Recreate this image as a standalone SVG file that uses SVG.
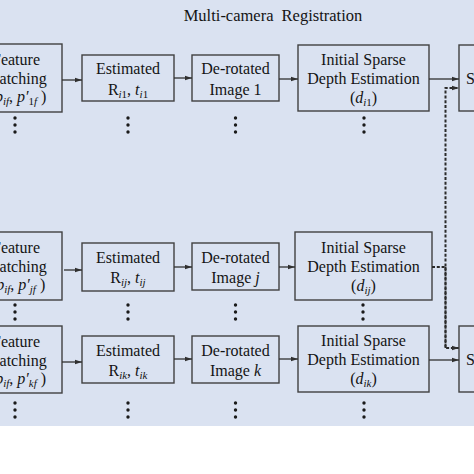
<svg xmlns="http://www.w3.org/2000/svg" width="474" height="474" viewBox="0 0 474 474">
<style>
.t{font-family:"Liberation Serif","Times New Roman",serif;font-size:16px;fill:#141414;text-anchor:middle}
.it{font-style:italic}
.sub{font-size:11px}
.box{fill:none;stroke:#404040;stroke-width:1.4}
.ln{fill:none;stroke:#303030;stroke-width:1.3}
.dash{fill:none;stroke:#2a2a2a;stroke-width:2;stroke-dasharray:3 1.8}
.dot{fill:#1a1a1a}
</style>
<defs>
<marker id="ah" markerWidth="7" markerHeight="6" refX="7" refY="3" orient="auto" markerUnits="userSpaceOnUse">
<path d="M0,0.8 L7,3 L0,5.2 z" fill="#303030"/>
</marker>
</defs>
<rect x="0" y="0" width="474" height="426" fill="#dae2f1"/>
<text class="t" x="273" y="21" style="font-size:16.5px;word-spacing:4px">Multi-camera Registration</text>

<g id="feature1"><rect class="box" x="-30" y="44" width="92" height="68"/>
<text class="t" x="16" y="65">Feature</text><text class="t" x="16" y="84">Matching</text>
<text class="t" x="18" y="102">(<tspan class="it">p</tspan><tspan class="sub it" dy="3">if</tspan><tspan dy="-3">, </tspan><tspan class="it">p′</tspan><tspan class="sub" dy="3">1<tspan class="it">f</tspan></tspan><tspan dy="-3"> )</tspan></text></g>
<g id="est1"><rect class="box" x="82" y="55" width="92" height="46"/>
<text class="t" x="128" y="74">Estimated</text>
<text class="t" x="128" y="95">R<tspan class="sub" dy="3"><tspan class="it">i</tspan>1</tspan><tspan dy="-3">, </tspan><tspan class="it">t</tspan><tspan class="sub" dy="3"><tspan class="it">i</tspan>1</tspan></text></g>
<g id="derot1"><rect class="box" x="192" y="55" width="87" height="46"/>
<text class="t" x="235.5" y="74">De-rotated</text><text class="t" x="235.5" y="95">Image 1</text></g>
<g id="init1"><rect class="box" x="298" y="45" width="131" height="66"/>
<text class="t" x="363.5" y="65">Initial Sparse</text><text class="t" x="363.5" y="84">Depth Estimation</text>
<text class="t" x="363.5" y="103">(<tspan class="it">d</tspan><tspan class="sub" dy="3"><tspan class="it">i</tspan>1</tspan><tspan dy="-3">)</tspan></text></g>
<g id="s1"><rect class="box" x="459" y="45" width="40" height="66"/>
<text class="t" x="466" y="84" style="text-anchor:start">S</text></g>

<g id="featurej"><rect class="box" x="-30" y="232" width="92" height="68"/>
<text class="t" x="16" y="253">Feature</text><text class="t" x="16" y="272">Matching</text>
<text class="t" x="18" y="290">(<tspan class="it">p</tspan><tspan class="sub it" dy="3">if</tspan><tspan dy="-3">, </tspan><tspan class="it">p′</tspan><tspan class="sub it" dy="3">jf</tspan><tspan dy="-3"> )</tspan></text></g>
<g id="estj"><rect class="box" x="82" y="243" width="92" height="48"/>
<text class="t" x="128" y="263">Estimated</text>
<text class="t" x="128" y="283">R<tspan class="sub it" dy="3">ij</tspan><tspan dy="-3">, </tspan><tspan class="it">t</tspan><tspan class="sub it" dy="3">ij</tspan></text></g>
<g id="derotj"><rect class="box" x="192" y="243" width="87" height="47"/>
<text class="t" x="235.5" y="263">De-rotated</text><text class="t" x="235.5" y="283">Image <tspan class="it">j</tspan></text></g>
<g id="initj"><rect class="box" x="295" y="232" width="137" height="68"/>
<text class="t" x="363.5" y="253">Initial Sparse</text><text class="t" x="363.5" y="272">Depth Estimation</text>
<text class="t" x="363.5" y="291">(<tspan class="it">d</tspan><tspan class="sub it" dy="3">ij</tspan><tspan dy="-3">)</tspan></text></g>

<g id="featurek"><rect class="box" x="-30" y="326" width="92" height="67"/>
<text class="t" x="16" y="347">Feature</text><text class="t" x="16" y="366">Matching</text>
<text class="t" x="18" y="384">(<tspan class="it">p</tspan><tspan class="sub it" dy="3">if</tspan><tspan dy="-3">, </tspan><tspan class="it">p′</tspan><tspan class="sub it" dy="3">kf</tspan><tspan dy="-3"> )</tspan></text></g>
<g id="estk"><rect class="box" x="82" y="336" width="92" height="47"/>
<text class="t" x="128" y="356">Estimated</text>
<text class="t" x="128" y="376">R<tspan class="sub it" dy="3">ik</tspan><tspan dy="-3">, </tspan><tspan class="it">t</tspan><tspan class="sub it" dy="3">ik</tspan></text></g>
<g id="derotk"><rect class="box" x="192" y="336" width="87" height="47"/>
<text class="t" x="235.5" y="356">De-rotated</text><text class="t" x="235.5" y="376">Image <tspan class="it">k</tspan></text></g>
<g id="initk"><rect class="box" x="298" y="326" width="131" height="66"/>
<text class="t" x="363.5" y="346">Initial Sparse</text><text class="t" x="363.5" y="365">Depth Estimation</text>
<text class="t" x="363.5" y="384">(<tspan class="it">d</tspan><tspan class="sub it" dy="3">ik</tspan><tspan dy="-3">)</tspan></text></g>
<g id="sk"><rect class="box" x="459" y="326" width="40" height="66"/>
<text class="t" x="466" y="365" style="text-anchor:start">S</text></g>

<g id="dots">
<circle class="dot" cx="15" cy="118" r="1.7"/><circle class="dot" cx="15" cy="125" r="1.7"/><circle class="dot" cx="15" cy="132" r="1.7"/>
<circle class="dot" cx="128" cy="118" r="1.7"/><circle class="dot" cx="128" cy="125" r="1.7"/><circle class="dot" cx="128" cy="132" r="1.7"/>
<circle class="dot" cx="235.5" cy="118" r="1.7"/><circle class="dot" cx="235.5" cy="125" r="1.7"/><circle class="dot" cx="235.5" cy="132" r="1.7"/>
<circle class="dot" cx="364" cy="118" r="1.7"/><circle class="dot" cx="364" cy="125" r="1.7"/><circle class="dot" cx="364" cy="132" r="1.7"/>
<circle class="dot" cx="15" cy="305" r="1.7"/><circle class="dot" cx="15" cy="312" r="1.7"/><circle class="dot" cx="15" cy="319" r="1.7"/>
<circle class="dot" cx="128" cy="305" r="1.7"/><circle class="dot" cx="128" cy="312" r="1.7"/><circle class="dot" cx="128" cy="319" r="1.7"/>
<circle class="dot" cx="235.5" cy="305" r="1.7"/><circle class="dot" cx="235.5" cy="312" r="1.7"/><circle class="dot" cx="235.5" cy="319" r="1.7"/>
<circle class="dot" cx="363" cy="305" r="1.7"/><circle class="dot" cx="363" cy="312" r="1.7"/><circle class="dot" cx="363" cy="319" r="1.7"/>
<circle class="dot" cx="15" cy="403" r="1.7"/><circle class="dot" cx="15" cy="410" r="1.7"/><circle class="dot" cx="15" cy="417" r="1.7"/>
<circle class="dot" cx="128" cy="403" r="1.7"/><circle class="dot" cx="128" cy="410" r="1.7"/><circle class="dot" cx="128" cy="417" r="1.7"/>
<circle class="dot" cx="235.5" cy="403" r="1.7"/><circle class="dot" cx="235.5" cy="410" r="1.7"/><circle class="dot" cx="235.5" cy="417" r="1.7"/>
<circle class="dot" cx="364" cy="403" r="1.7"/><circle class="dot" cx="364" cy="410" r="1.7"/><circle class="dot" cx="364" cy="417" r="1.7"/>
</g>

<g id="connectors">
<line class="ln" x1="62" y1="80" x2="82" y2="80" marker-end="url(#ah)"/>
<line class="ln" x1="174" y1="78" x2="192" y2="78" marker-end="url(#ah)"/>
<line class="ln" x1="279" y1="79" x2="298" y2="79" marker-end="url(#ah)"/>
<line class="ln" x1="429" y1="79" x2="459" y2="79" marker-end="url(#ah)"/>
<line class="ln" x1="64" y1="270" x2="82" y2="270" marker-end="url(#ah)"/>
<line class="ln" x1="174" y1="267" x2="192" y2="267" marker-end="url(#ah)"/>
<line class="ln" x1="279" y1="267" x2="295" y2="267" marker-end="url(#ah)"/>
<line class="ln" x1="62" y1="362" x2="82" y2="362" marker-end="url(#ah)"/>
<line class="ln" x1="174" y1="359" x2="192" y2="359" marker-end="url(#ah)"/>
<line class="ln" x1="279" y1="359" x2="298" y2="359" marker-end="url(#ah)"/>
<line class="ln" x1="429" y1="360" x2="459" y2="360" marker-end="url(#ah)"/>
<path class="dash" d="M432,267 H445.5"/>
<path class="dash" d="M445.5,348 V88 H459" marker-end="url(#ah)"/>
<path class="dash" d="M445.5,267 V348 H459" marker-end="url(#ah)"/>
</g>
</svg>
